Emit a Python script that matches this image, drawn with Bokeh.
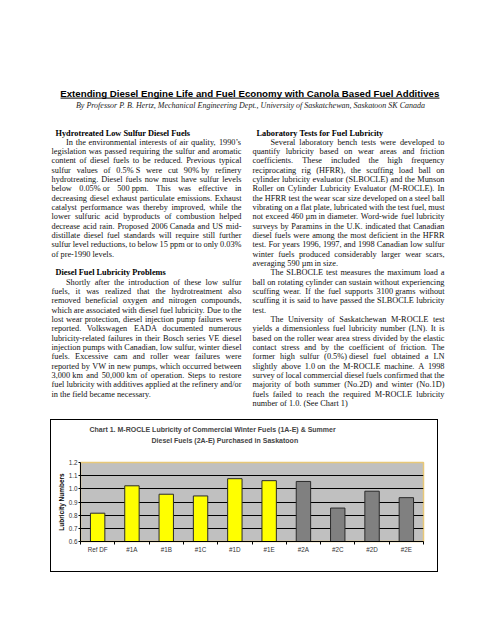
import numpy as np
from bokeh.plotting import figure
from bokeh.models import Range1d, FixedTicker, Title, Spacer, PrintfTickFormatter
from bokeh.layouts import column, row
from bokeh.core.properties import value
from bokeh.embed import file_html
from bokeh.resources import INLINE

# chart data
fuels = ["Ref DF", "#1A", "#1B", "#1C", "#1D", "#1E", "#2A", "#2C", "#2D", "#2E"]
lubricity = [0.815, 1.023, 0.959, 0.946, 1.077, 1.062, 1.056, 0.854, 0.982, 0.933]
season = ["ref", "winter", "winter", "winter", "winter", "winter",
          "summer", "summer", "summer", "summer"]
y_ticks = [0.6, 0.7, 0.8, 0.9, 1.0, 1.1, 1.2]
grid_ticks = [0.7, 0.8, 0.9, 1.0, 1.1]

chart_title_1 = "Chart 1.  M-ROCLE Lubricity of Commercial Winter Fuels (1A-E) & Summer"
chart_title_2 = "Diesel Fuels (2A-E) Purchased in Saskatoon"

# page text
page_title = "Extending Diesel Engine Life and Fuel Economy with Canola Based Fuel Additives"
page_byline = ("By Professor P. B. Hertz, Mechanical Engineering Dept., "
               "University of Saskatchewan, Saskatoon SK Canada")

hydro_lines = [
    "In the environmental interests of air quality, 1990\u2019s",
    "legislation was passed requiring the sulfur and aromatic",
    "content of diesel fuels to be reduced.  Previous typical",
    "sulfur values of 0.5% S were cut 90% by refinery",
    "hydrotreating. Diesel fuels now must have sulfur levels",
    "below 0.05% or 500 ppm. This was effective in",
    "decreasing diesel exhaust particulate emissions.  Exhaust",
    "catalyst performance was thereby improved, while the",
    "lower sulfuric acid byproducts of combustion helped",
    "decrease acid rain.  Proposed 2006 Canada and US mid-",
    "distillate diesel fuel standards will require still further",
    "sulfur level reductions, to below 15 ppm or to only 0.03%",
    "of pre-1990 levels.",
]
problem_lines = [
    "Shortly after the introduction of these low sulfur",
    "fuels, it was realized that the hydrotreatment also",
    "removed beneficial oxygen and nitrogen compounds,",
    "which are associated with diesel fuel lubricity. Due to the",
    "lost wear protection, diesel injection pump failures were",
    "reported. Volkswagen EADA documented numerous",
    "lubricity-related failures in their Bosch series VE diesel",
    "injection pumps with Canadian, low sulfur, winter diesel",
    "fuels.  Excessive cam and roller wear failures were",
    "reported by VW in new pumps, which occurred between",
    "3,000 km and 50,000 km of operation.  Steps to restore",
    "fuel lubricity with additives applied at the refinery and/or",
    "in the field became necessary.",
]
lab_lines = [
    "Several laboratory bench tests were developed to",
    "quantify lubricity based on wear areas and friction",
    "coefficients.   These included the high frequency",
    "reciprocating rig (HFRR), the scuffing load ball on",
    "cylinder lubricity evaluator (SLBOCLE) and the Munson",
    "Roller on Cylinder Lubricity Evaluator (M-ROCLE).  In",
    "the HFRR test the wear scar size developed on a steel ball",
    "vibrating on a flat plate, lubricated with the test fuel, must",
    "not exceed 460 \u00b5m in diameter. Word-wide fuel lubricity",
    "surveys by Paramins in the U.K. indicated that Canadian",
    "diesel fuels were among the most deficient in the HFRR",
    "test. For years 1996, 1997, and 1998 Canadian low sulfur",
    "winter fuels produced considerably larger wear scars,",
    "averaging 590 \u00b5m in size.",
]
slbocle_lines = [
    "The SLBOCLE test measures the maximum load a",
    "ball on rotating cylinder can sustain without experiencing",
    "scuffing wear.  If the fuel supports 3100 grams without",
    "scuffing it is said to have passed the SLBOCLE lubricity",
    "test.",
]
mrocle_lines = [
    "The University of Saskatchewan M-ROCLE test",
    "yields a dimensionless fuel lubricity number (LN).  It is",
    "based on the roller wear area stress divided by the elastic",
    "contact stress and by the coefficient of friction.  The",
    "former high sulfur (0.5%) diesel fuel obtained a LN",
    "slightly above 1.0 on the M-ROCLE machine. A 1998",
    "survey of local commercial diesel fuels confirmed that the",
    "majority of both summer (No.2D) and winter (No.1D)",
    "fuels failed to reach the required M-ROCLE lubricity",
    "number of 1.0. (See Chart 1)",
]

left_blocks = [("head", "Hydrotreated Low Sulfur Diesel Fuels"), ("para", hydro_lines),
               ("gap", None),
               ("head", "Diesel Fuel Lubricity Problems"), ("para", problem_lines)]
right_blocks = [("head", "Laboratory Tests for Fuel Lubricity"), ("para", lab_lines),
                ("para", slbocle_lines), ("para", mrocle_lines)]

# Times metrics (1/1000 em) used to justify the body text
FS = 8.3
TIMES = dict(zip("abcdefghijklmnopqrstuvwxyz",
                 [444, 500, 444, 500, 444, 333, 500, 500, 278, 278, 500, 278, 778,
                  500, 500, 500, 500, 333, 389, 278, 500, 500, 722, 500, 500, 444]))
TIMES.update(zip("ABCDEFGHIJKLMNOPQRSTUVWXYZ",
                 [722, 667, 667, 722, 611, 556, 722, 722, 333, 389, 722, 611, 889,
                  722, 722, 556, 722, 667, 556, 611, 722, 722, 944, 722, 722, 611]))
TIMES.update({".": 250, ",": 250, "(": 333, ")": 333, "-": 333, "%": 833, "/": 278,
              ":": 278, " ": 250, "\u2019": 333, "\u00b5": 500})


def text_width(s):
    return sum(TIMES.get(ch, 500) for ch in s) * FS / 1000


def tokens(line):
    # a token made only of digits sticks to the next word
    out = []
    for w in line.split():
        if out and not any(ch.isalpha() for ch in out[-1]):
            out[-1] = out[-1] + " " + w
        else:
            out.append(w)
    return out


word_x, word_y, word_txt = [], [], []
head_x, head_y, head_txt = [], [], []
LINE = 9.33
TOP = 132.5  # baseline of the first heading


def set_line(line, x0, w, y, justify):
    parts = tokens(line)
    widths = [text_width(p) for p in parts]
    if justify and len(parts) > 1:
        gap = (w - sum(widths)) / (len(parts) - 1)
    else:
        gap = text_width(" ")
    x = x0
    for p, pw in zip(parts, widths):
        word_x.append(x)
        word_y.append(y)
        word_txt.append(p)
        x += pw + gap


def set_column(blocks, x0, col_w, indent):
    y = TOP
    for kind, content in blocks:
        if kind == "head":
            head_x.append(x0 + 4)
            head_y.append(y)
            head_txt.append(content)
            y += LINE
        elif kind == "gap":
            y += LINE
        else:
            for i, line in enumerate(content):
                first = indent if i == 0 else 0
                set_line(line, x0 + first, col_w - first, y, i < len(content) - 1)
                y += LINE


set_column(left_blocks, 51, 190, 14.5)
set_column(right_blocks, 252, 192, 18)

t = figure(width=490, height=419, x_range=Range1d(0, 490), y_range=Range1d(419, 0),
           x_axis_type=None, y_axis_type=None, min_border=0, toolbar_location=None,
           output_backend="svg", outline_line_color=None)

t.text(x=[249.5], y=[93.3], text=[page_title], text_align="center",
       text_baseline="alphabetic",
       text_font=value("Liberation Sans"), text_font_style="bold", text_font_size="9.7px",
       text_color="black")
t.segment(x0=[60], y0=[97.6], x1=[439], y1=[97.6], line_color="black", line_width=1)
t.text(x=[250], y=[104.5], text=[page_byline], text_align="center",
       text_baseline="alphabetic",
       text_font=value("Liberation Serif"), text_font_style="italic", text_font_size="8px",
       text_color="#222222")
t.text(x=head_x, y=head_y, text=head_txt, text_baseline="alphabetic",
       text_font=value("Liberation Serif"), text_font_style="bold", text_font_size=f"{FS}px",
       text_color="black")
t.text(x=word_x, y=word_y, text=word_txt, text_baseline="alphabetic",
       text_font=value("Liberation Serif"), text_font_size=f"{FS}px", text_color="#111111")

# the chart
idx = np.arange(len(fuels))
colors = ["#808080" if s == "summer" else "#FFFF00" for s in season]

c = figure(width=388, height=153, x_range=Range1d(-0.5, len(fuels) - 0.5),
           y_range=Range1d(0.6, 1.2), output_backend="svg", toolbar_location=None,
           min_border_left=29, min_border_right=16, min_border_top=42, min_border_bottom=32,
           background_fill_color="#C0C0C0", border_fill_color="white",
           outline_line_color="#E8C878", outline_line_width=1.5,
           styles={"border": "1px solid black"})

c.vbar(x=idx, top=lubricity, width=0.42, fill_color=colors, line_color="#2a2a2a",
       line_width=1)

c.xgrid.visible = False
c.ygrid.ticker = FixedTicker(ticks=grid_ticks)
c.ygrid.grid_line_color = "black"
c.ygrid.grid_line_width = 1

c.yaxis.ticker = FixedTicker(ticks=y_ticks)
c.yaxis.formatter = PrintfTickFormatter(format="%.1f")
c.yaxis.major_tick_in = 0
c.yaxis.major_tick_out = 2
c.yaxis.minor_tick_line_color = None
c.yaxis.major_label_standoff = 1
c.yaxis.axis_label = "Lubricity Numbers"
c.yaxis.axis_label_standoff = 1
c.yaxis.axis_label_text_font = "Liberation Sans"
c.yaxis.axis_label_text_font_style = "bold"
c.yaxis.axis_label_text_font_size = "6.5px"
c.yaxis.axis_label_text_color = "black"

c.xaxis.ticker = FixedTicker(ticks=list(idx), minor_ticks=list(np.arange(len(fuels) + 1) - 0.5))
c.xaxis.major_label_overrides = {int(i): f for i, f in zip(idx, fuels)}
c.xaxis.major_tick_line_color = None
c.xaxis.major_tick_in = 0
c.xaxis.major_tick_out = 0
c.xaxis.minor_tick_in = 0
c.xaxis.minor_tick_out = 3
c.xaxis.minor_tick_line_color = "black"
c.xaxis.major_label_standoff = 1

for ax in (c.xaxis, c.yaxis):
    ax.axis_line_color = "black"
    ax.major_label_text_font = "Liberation Sans"
    ax.major_label_text_font_size = "6.3px"
    ax.major_label_text_color = "#333333"

# an empty title keeps the two title lines up from the plot area
c.add_layout(Title(text=" ", text_font_size="7px", standoff=9), "above")
c.add_layout(Title(text=chart_title_2, align="left", offset=71, text_font="Liberation Sans",
                   text_font_style="bold", text_font_size="7px", standoff=2), "above")
c.add_layout(Title(text=chart_title_1, align="left", offset=9, text_font="Liberation Sans",
                   text_font_style="bold", text_font_size="7px", standoff=2), "above")

p = column(t, row(Spacer(width=50, height=155), c))
open("out.html", "w").write(file_html(p, INLINE))
